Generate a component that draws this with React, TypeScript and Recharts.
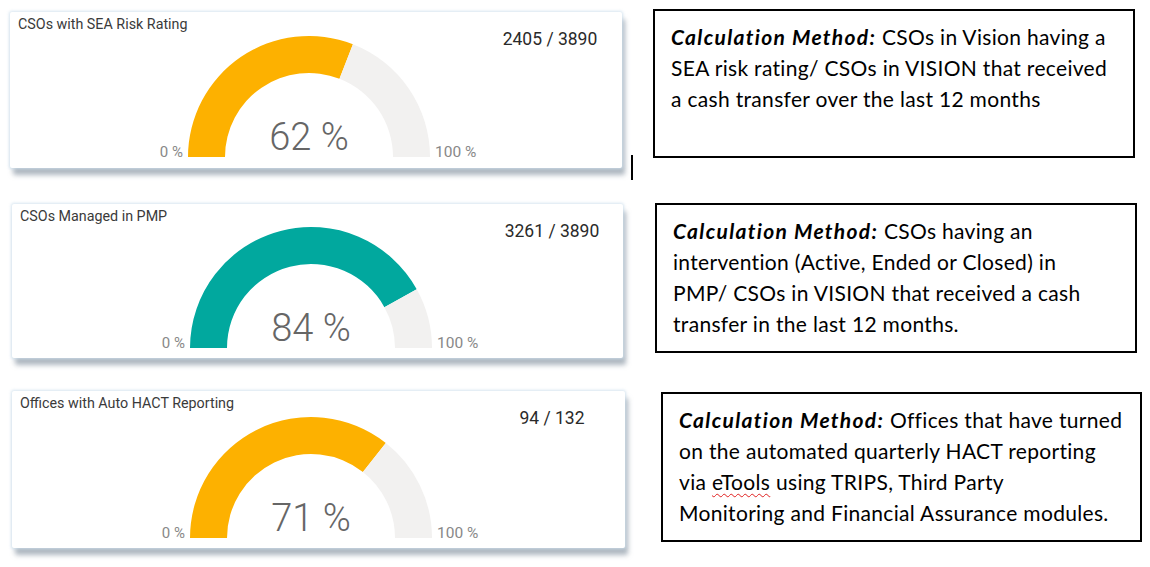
import React from "react";
import { PieChart, Pie, Cell } from "recharts";

const titles = ["CSOs with SEA Risk Rating", "CSOs Managed in PMP", "Offices with Auto HACT Reporting"];
const achieved = [2405, 3261, 94];
const totals = [3890, 3890, 132];
const fillColors = ["#FDB100", "#01A89E", "#FDB100"];
const trackColor = "#F2F1F0";
const minLabel = "0 %";
const maxLabel = "100 %";

const methodLines: string[][] = [
  [" CSOs in Vision having a", "SEA risk rating/ CSOs in VISION that received", "a cash transfer over the last 12 months"],
  [" CSOs having an", "intervention (Active, Ended or Closed) in", "PMP/ CSOs in VISION that received a cash", "transfer in the last 12 months."],
  [" Offices that have turned", "on the automated quarterly HACT reporting", "via |eTools| using TRIPS, Third Party", "Monitoring and Financial Assurance modules."],
];

const cards = [
  { left: 10, top: 12, width: 612, height: 156, cx: 299, cy: 145 },
  { left: 12, top: 204, width: 611, height: 154, cx: 299, cy: 144 },
  { left: 12, top: 391, width: 613, height: 157, cx: 299, cy: 147 },
];
const boxes = [
  { left: 653, top: 9, width: 482, height: 149 },
  { left: 655, top: 203, width: 482, height: 150 },
  { left: 661, top: 392, width: 481, height: 150 },
];

const R = 121;
const r = 84;
const dinFont = "Roboto, 'DejaVu Sans', sans-serif";

function renderLine(line: string) {
  const parts = line.split("|");
  return parts.map((p, i) =>
    i % 2 === 1 ? (
      <span key={i} style={{ textDecoration: "underline wavy #e02020", textDecorationThickness: 1, textUnderlineOffset: 3 }}>{p}</span>
    ) : (
      <span key={i}>{p}</span>
    )
  );
}

function Gauge({ i }: { i: number }) {
  const c = cards[i];
  const data = [
    { name: "value", value: achieved[i] },
    { name: "rest", value: totals[i] - achieved[i] },
  ];
  const pct = Math.round((achieved[i] / totals[i]) * 100);
  return (
    <div
      style={{
        position: "absolute",
        left: c.left,
        top: c.top,
        width: c.width,
        height: c.height,
        background: "#fff",
        borderRadius: 2,
        boxShadow: "0 0 3px 1px rgba(205,222,236,0.8), 3px 7px 5px rgba(120,135,150,0.6)",
      }}
    >
      <PieChart width={c.width} height={c.height} margin={{ top: 0, right: 0, bottom: 0, left: 0 }}>
        <Pie
          data={data}
          dataKey="value"
          cx={c.cx}
          cy={c.cy}
          startAngle={180}
          endAngle={0}
          innerRadius={r}
          outerRadius={R}
          stroke="none"
          paddingAngle={0}
          isAnimationActive={false}
        >
          <Cell fill={fillColors[i]} />
          <Cell fill={trackColor} />
        </Pie>
      </PieChart>
      <svg
        width={c.width}
        height={c.height}
        style={{ position: "absolute", left: 0, top: 0, pointerEvents: "none" }}
      >
        <text x={8} y={17} fontFamily={dinFont} fontSize={14.3} fill="#3a3a3a">{titles[i]}</text>
        <text x={540} y={33} textAnchor="middle" fontFamily={dinFont} fontSize={17.5} fontWeight={400} fill="#2a2a2a">
          {`${achieved[i]} / ${totals[i]}`}
        </text>
        <text x={c.cx} y={c.cy - 7} textAnchor="middle" fontFamily={dinFont} fontSize={38} fontWeight={300} fill="#666">
          {`${pct} %`}
        </text>
        <text x={c.cx - R - 5} y={c.cy} textAnchor="end" fontFamily={dinFont} fontSize={15} fill="#888">{minLabel}</text>
        <text x={c.cx + R + 5} y={c.cy} textAnchor="start" fontFamily={dinFont} fontSize={15.5} fill="#888">{maxLabel}</text>
      </svg>
    </div>
  );
}

function MethodBox({ i }: { i: number }) {
  const b = boxes[i];
  const lines = methodLines[i];
  return (
    <div
      style={{
        position: "absolute",
        left: b.left,
        top: b.top,
        width: b.width,
        height: b.height,
        boxSizing: "border-box",
        border: "2px solid #000",
        background: "#fff",
        padding: "10px 0 0 16px",
        fontFamily: "Lato, 'Open Sans', sans-serif",
        fontSize: 21,
        letterSpacing: 0.32,
        lineHeight: "31px",
        color: "#000",
        whiteSpace: "nowrap",
      }}
    >
      {lines.map((ln, j) => (
        <div key={j}>
          {j === 0 ? <b style={{ letterSpacing: 1.3 }}><i>Calculation Method:</i></b> : null}
          {renderLine(ln)}
        </div>
      ))}
    </div>
  );
}

export default function App() {
  return (
    <div style={{ position: "absolute", left: 0, top: 0, width: 1150, height: 567, background: "#fff", overflow: "hidden" }}>
      {[0, 1, 2].map((i) => (
        <Gauge key={i} i={i} />
      ))}
      {[0, 1, 2].map((i) => (
        <MethodBox key={"b" + i} i={i} />
      ))}
      <div style={{ position: "absolute", left: 631, top: 155, width: 1.5, height: 25, background: "#000" }} />
    </div>
  );
}
